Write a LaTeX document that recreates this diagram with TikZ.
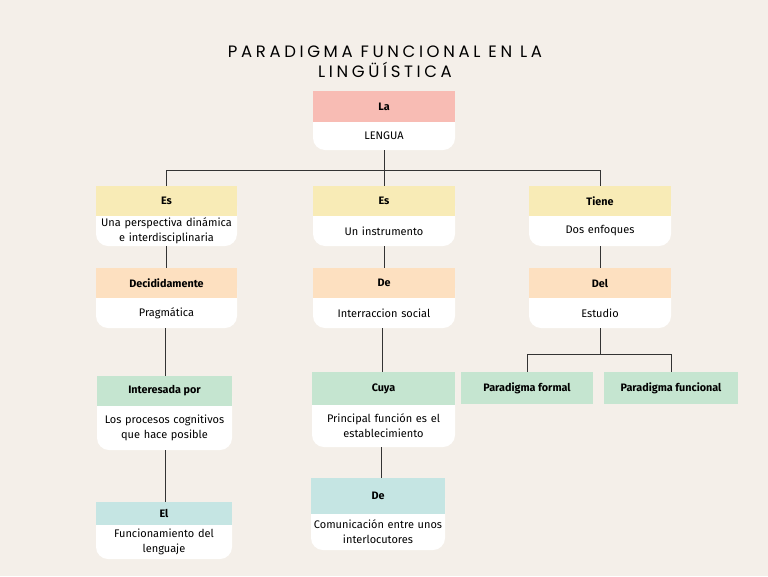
\documentclass[tikz,border=0pt]{standalone}
\usepackage{fontspec}
\setmainfont{Fira Sans}
\newfontfamily\titlefont[LetterSpace=22]{Poppins}
\definecolor{bg}{HTML}{F4EFE9}
\definecolor{cpink}{HTML}{F8BCB4}
\definecolor{cyel}{HTML}{F8EBB6}
\definecolor{cpeach}{HTML}{FDE0C0}
\definecolor{cgreen}{HTML}{C5E5D0}
\definecolor{cteal}{HTML}{C5E5E3}
\newcommand{\mycard}[9]{% name, x1, x2, ytop, ymid, ybot, color, header, body
  \fill[white,rounded corners=12pt] (#2,#4+8) rectangle (#3,#6);
  \fill[#7] (#2,#4) rectangle (#3,#5);
  \node[hdr] (#1h) at ({(#2+#3)/2},{(#4+#5)/2}) {#8};
  \node[bdy,text width={(#3-#2)*1pt}] (#1b) at ({(#2+#3)/2},{(#5+#6)/2}) {#9};
}
\tikzset{hdr/.style={font=\fontsize{10.8}{12}\selectfont\bfseries,inner sep=0pt},
 bdy/.style={font=\fontsize{11}{15}\selectfont,align=center,inner sep=0pt},
 ln/.style={line width=0.8pt,draw=black!80}}
\begin{document}
\begin{tikzpicture}[x=1pt,y=-1pt]
\fill[bg] (0,0) rectangle (768,576);
\useasboundingbox (0,0) rectangle (768,576);
\node[font=\titlefont\fontsize{16.5}{20}\selectfont,align=center] (title) at (385,62) {PARADIGMA FUNCIONAL EN LA\\LINGÜÍSTICA};
\mycard{la}{313}{455}{91}{122}{150}{cpink}{La}{LENGUA}
\mycard{esa}{96}{237}{186}{216}{246}{cyel}{Es}{Una perspectiva dinámica\\e interdisciplinaria}
\mycard{esb}{313}{455}{186}{216}{246}{cyel}{Es}{Un instrumento}
\mycard{ti}{529}{671}{186}{216}{246}{cyel}{Tiene}{Dos enfoques}
\mycard{dec}{96}{237}{268}{298}{328}{cpeach}{Decididamente}{Pragmática}
\mycard{de}{313}{455}{268}{298}{328}{cpeach}{De}{Interraccion social}
\mycard{del}{529}{671}{268}{298}{328}{cpeach}{Del}{Estudio}
\mycard{int}{97}{232}{376}{406}{450}{cgreen}{Interesada por}{Los procesos cognitivos\\que hace posible}
\mycard{cu}{312}{455}{372}{405}{447}{cgreen}{Cuya}{Principal función es el\\establecimiento}
\fill[cgreen] (461,372) rectangle (593,404);
\node[hdr] (pf) at (527,388) {Paradigma formal};
\fill[cgreen] (604,372) rectangle (738,404);
\node[hdr] (pfu) at (671,388) {Paradigma funcional};
\mycard{dc}{311}{445}{478}{514}{550}{cteal}{De}{Comunicación entre unos\\interlocutores}
\mycard{el}{96}{232}{502}{525}{559}{cteal}{El}{Funcionamiento del\\lenguaje}
\coordinate (j1) at (384,170);
\coordinate (j2) at (600,354);
\coordinate (lab) at (384,150);
\draw[ln] (lab) -- (j1);
\draw[ln] (166,186) -- (166,170) -- (600,170) -- (600,186);
\draw[ln] (384,170) -- (384,186);
\draw[ln] (166,246) -- (166,268);
\draw[ln] (384,246) -- (384,268);
\draw[ln] (600,246) -- (600,268);
\draw[ln] (165,328) -- (165,376);
\draw[ln] (382,328) -- (382,372);
\draw[ln] (600,328) -- (j2);
\draw[ln] (527,372) -- (527,354) -- (671,354) -- (671,372);
\draw[ln] (165,450) -- (165,502);
\draw[ln] (381,447) -- (381,478);
\end{tikzpicture}
\end{document}
